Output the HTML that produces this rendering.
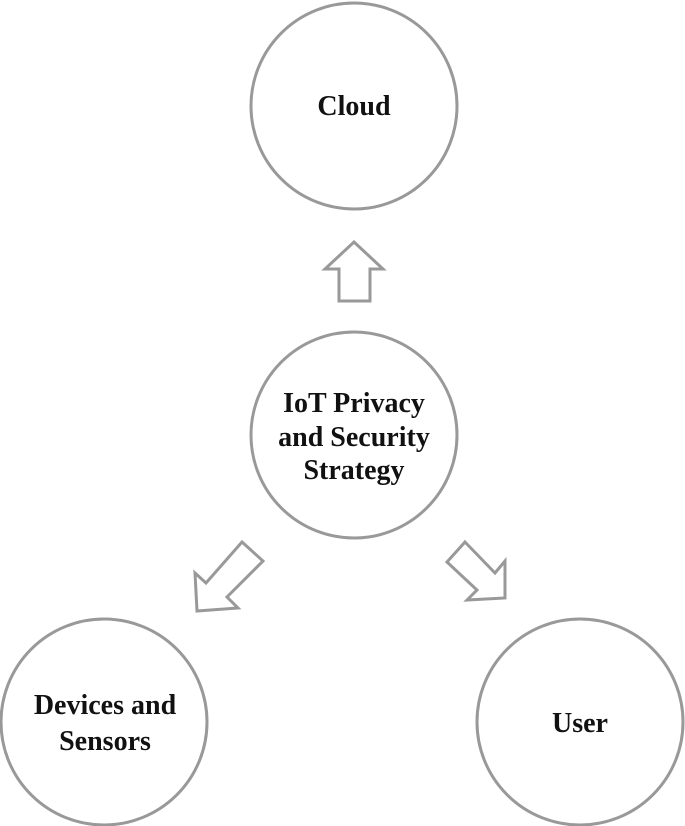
<!DOCTYPE html>
<html><head><style>
html,body{margin:0;padding:0;background:#fff;}
svg{display:block;}
text{font-family:"Liberation Serif",serif;font-weight:bold;fill:#111;font-size:28px;text-anchor:middle;}
</style></head><body>
<svg width="685" height="826" viewBox="0 0 685 826">
<g fill="none" stroke="#999" stroke-width="3">
<circle cx="354" cy="106" r="103"/>
<circle cx="354" cy="435" r="103"/>
<ellipse cx="104" cy="722" rx="103" ry="103"/>
<ellipse cx="580" cy="722" rx="103" ry="103"/>
<polygon points="354,242 383,269 370,269 370,301 339,301 339,269 325,269"/>
<polygon points="242,542 263,561 227,597 238,608 197,611 195,573 206,583"/>
<polygon points="465,542 495,573 505,561 505,598 467,600 477,590 447,562"/>
</g>
<text x="354" y="115">Cloud</text>
<text x="354" y="412">IoT Privacy</text>
<text x="354" y="446">and Security</text>
<text x="354" y="479">Strategy</text>
<text x="105" y="714">Devices and</text>
<text x="105" y="750">Sensors</text>
<text x="580" y="732">User</text>
</svg>
</body></html>
